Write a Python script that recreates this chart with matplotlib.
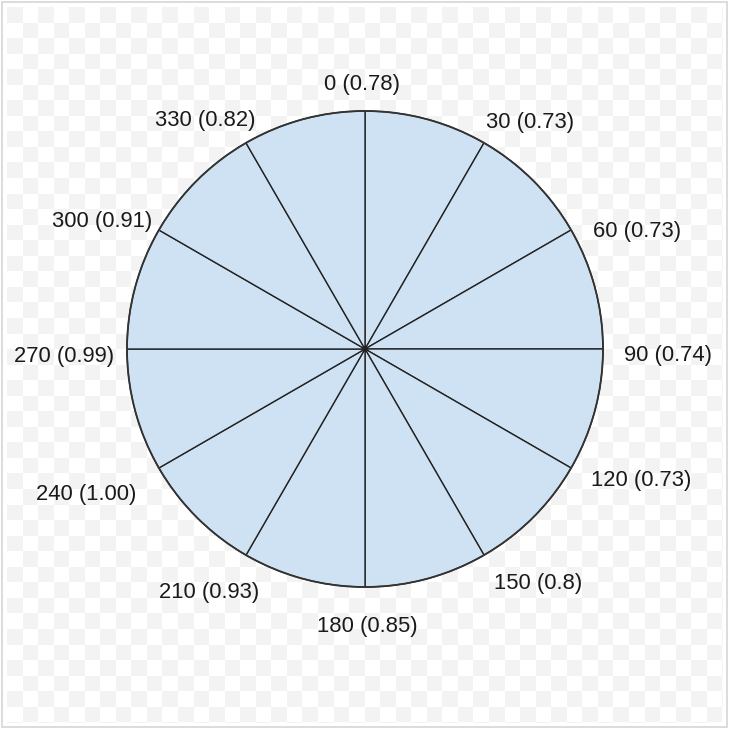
import numpy as np
import matplotlib.pyplot as plt
from matplotlib.patches import Wedge, Rectangle

# data
angles = [0, 30, 60, 90, 120, 150, 180, 210, 240, 270, 300, 330]
values = ["0.78", "0.73", "0.73", "0.74", "0.73", "0.8",
          "0.85", "0.93", "1.00", "0.99", "0.91", "0.82"]

# layout in pixel units (y down)
W = 730
cx, cy, R = 365, 349, 238
r_lab = 258
# small hand nudges so labels sit where the original placed them
nudge = {0: (-3, 1), 30: (-8, 4), 60: (5, 8), 90: (1, 4), 120: (3, 0),
         150: (0, -2), 180: (2, 6), 210: (23, 7), 240: (-5, 13),
         270: (7, 4), 300: (11, -1), 330: (20, 2)}
base_dy = 3

fig = plt.figure(figsize=(7.3, 7.3), dpi=100)
ax = fig.add_axes([0, 0, 1, 1])
ax.set_xlim(0, W)
ax.set_ylim(W, 0)
ax.set_aspect("equal")
ax.axis("off")

# faint checkerboard background inside a card border
sq = 15.55
x0, x1 = 7, 723
n = int(np.ceil((x1 - x0) / sq))
board = (np.add.outer(np.arange(n), np.arange(n)) % 2).astype(float)
im = ax.imshow(board, cmap=plt.matplotlib.colors.ListedColormap(["#f3f3f3", "#ffffff"]),
               extent=(x0, x0 + n * sq, x0 + n * sq, x0), interpolation="nearest", zorder=0)
clip = Rectangle((x0, x0), x1 - x0, x1 - x0, transform=ax.transData)
im.set_clip_path(clip)
ax.add_patch(Rectangle((1.5, 1.5), 725, 725, fill=False, ec="#d6d6d6", lw=1.2, zorder=1))

# wedges
step = 360 / len(angles)
for a in angles:
    w = Wedge((cx, cy), R, a - 90, a - 90 + step, facecolor="#cfe2f3",
              edgecolor="#222222", lw=1.0, zorder=2)
    ax.add_patch(w)
circ = plt.Circle((cx, cy), R, fill=False, ec="#333333", lw=1.3, zorder=3)
ax.add_patch(circ)

# labels
for a, v in zip(angles, values):
    t = np.deg2rad(a)
    x = cx + r_lab * np.sin(t)
    y = cy - r_lab * np.cos(t)
    dx, dy = nudge[a]
    s = np.sin(t)
    c = np.cos(t)
    ha = "center" if abs(s) < 0.1 else ("left" if s > 0 else "right")
    if c > 0.8:
        va = "bottom"
    elif c < -0.8:
        va = "top"
    else:
        va = "center"
    ax.text(x + dx, y + dy + base_dy, f"{a} ({v})", ha=ha, va=va, fontsize=15.8,
            family=["Liberation Sans", "DejaVu Sans"], color="#1a1a1a", zorder=4)

fig.savefig("out.png", dpi=100, facecolor="white")
